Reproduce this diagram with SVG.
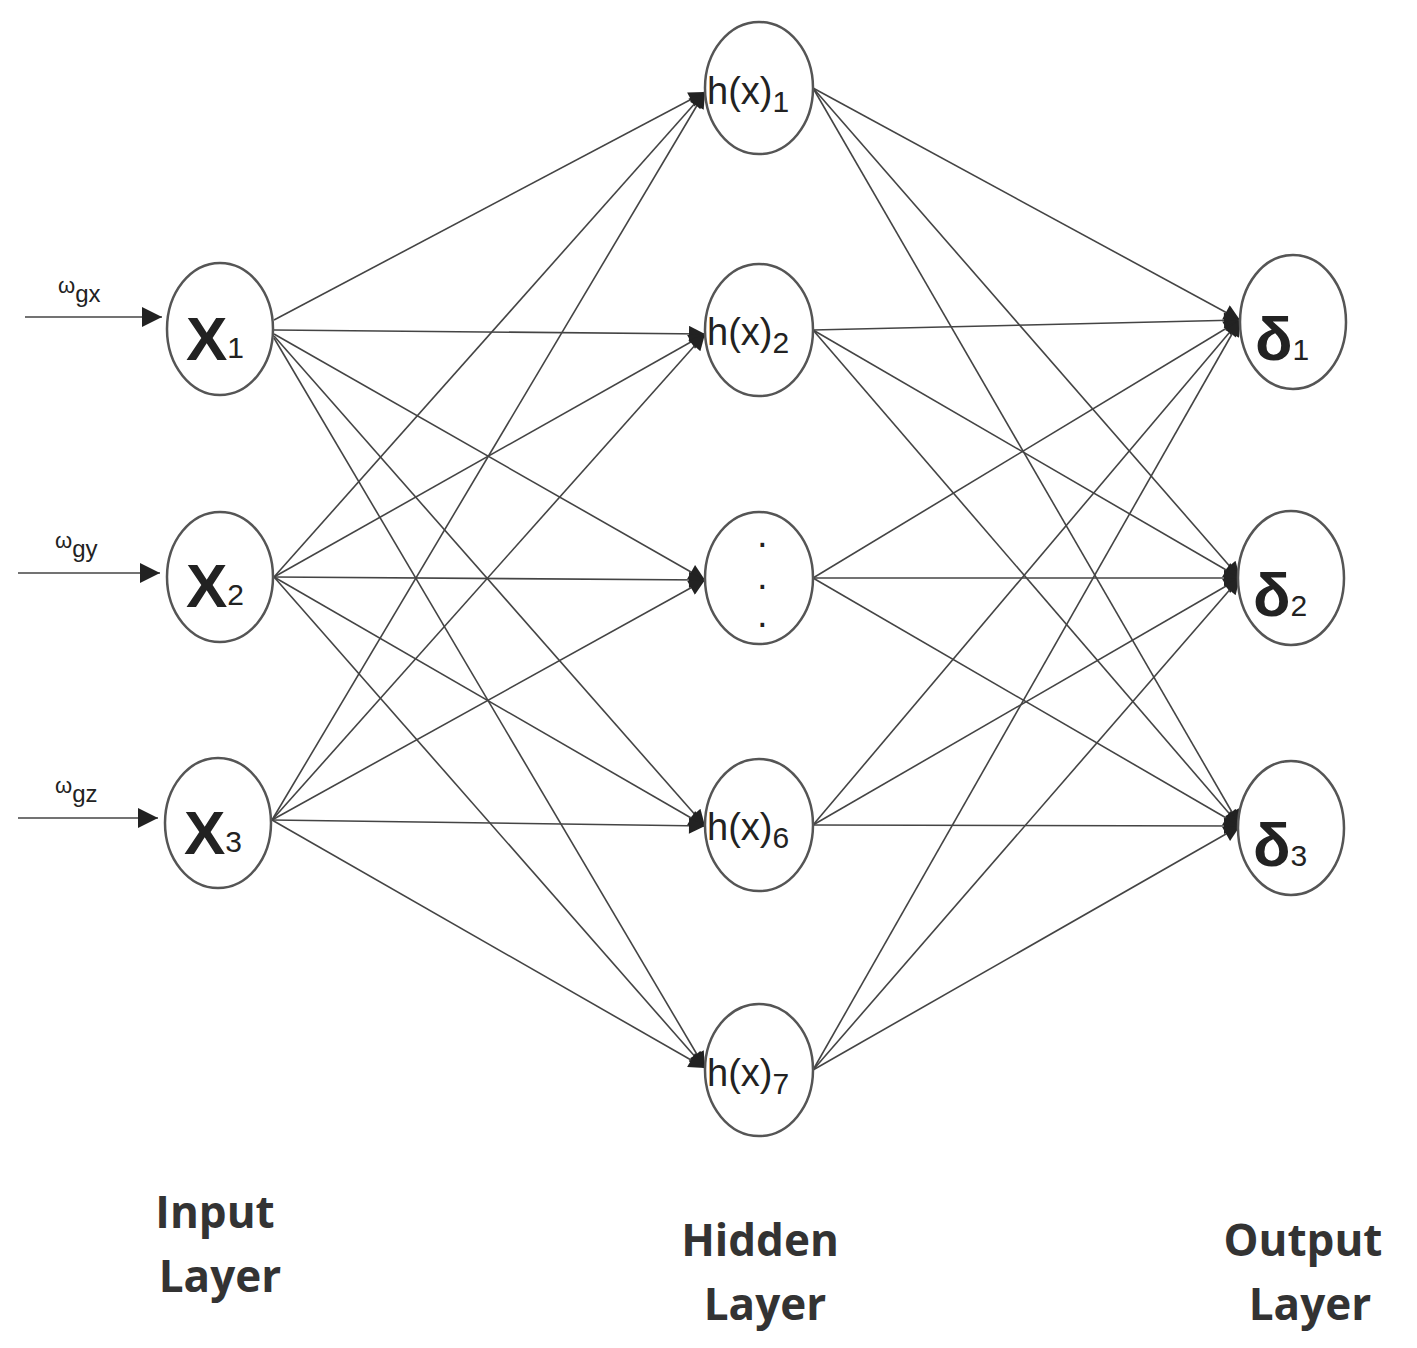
<svg xmlns="http://www.w3.org/2000/svg" width="1417" height="1348" viewBox="0 0 1417 1348">
<style>
.n{fill:#fff;stroke:#555;stroke-width:2.5}
.c line{stroke:#444;stroke-width:1.6}
.big{font-family:"Liberation Sans",Arial,sans-serif;font-weight:bold;font-size:62px;fill:#222}
.sub{font-family:"Liberation Sans",Arial,sans-serif;font-size:30px;fill:#222}
.h{font-family:"Liberation Sans",Arial,sans-serif;font-size:38px;fill:#222}
.w{font-family:"Liberation Sans",Arial,sans-serif;font-size:22px;fill:#222}
.lab{font-family:"Open Sans",sans-serif;font-weight:bold;font-size:44px;fill:#333;text-anchor:middle}
</style>
<defs>
<marker id="a" viewBox="0 0 10 10" refX="10" refY="5" markerWidth="22" markerHeight="16" markerUnits="userSpaceOnUse" orient="auto"><path d="M0,0L10,5L0,10z" fill="#222"/></marker>
<marker id="b" viewBox="0 0 10 10" refX="10" refY="5" markerWidth="24" markerHeight="20" markerUnits="userSpaceOnUse" orient="auto"><path d="M0,0L10,5L0,10z" fill="#222"/></marker>
</defs>
<g class="c" id="connectors">
<line x1="25" y1="317" x2="162" y2="317" marker-end="url(#b)"/>
<line x1="18" y1="573" x2="160" y2="573" marker-end="url(#b)"/>
<line x1="18" y1="818" x2="158" y2="818" marker-end="url(#b)"/>
<g marker-end="url(#a)">
<line x1="274" y1="320" x2="705" y2="92"/><line x1="274" y1="330" x2="705" y2="334"/><line x1="274" y1="334" x2="705" y2="580"/><line x1="274" y1="336" x2="705" y2="826"/><line x1="274" y1="338" x2="705" y2="1068"/>
<line x1="274" y1="577" x2="705" y2="92"/><line x1="274" y1="577" x2="705" y2="334"/><line x1="274" y1="577" x2="705" y2="580"/><line x1="274" y1="577" x2="705" y2="826"/><line x1="274" y1="577" x2="705" y2="1068"/>
<line x1="272" y1="820" x2="705" y2="92"/><line x1="272" y1="820" x2="705" y2="334"/><line x1="272" y1="820" x2="705" y2="580"/><line x1="272" y1="820" x2="705" y2="826"/><line x1="272" y1="820" x2="705" y2="1068"/>
</g>
<g marker-end="url(#a)">
<line x1="813" y1="88" x2="1240" y2="320"/><line x1="813" y1="88" x2="1240" y2="578"/><line x1="813" y1="88" x2="1240" y2="826"/>
<line x1="813" y1="330" x2="1240" y2="320"/><line x1="813" y1="330" x2="1240" y2="578"/><line x1="813" y1="330" x2="1240" y2="826"/>
<line x1="813" y1="578" x2="1240" y2="320"/><line x1="813" y1="578" x2="1240" y2="578"/><line x1="813" y1="578" x2="1240" y2="826"/>
<line x1="813" y1="825" x2="1240" y2="320"/><line x1="813" y1="825" x2="1240" y2="578"/><line x1="813" y1="825" x2="1240" y2="826"/>
<line x1="813" y1="1070" x2="1240" y2="320"/><line x1="813" y1="1070" x2="1240" y2="578"/><line x1="813" y1="1070" x2="1240" y2="826"/>
</g>
</g>
<text class="w" x="58" y="293">ω<tspan font-size="24" dy="9">gx</tspan></text>
<text class="w" x="55" y="548">ω<tspan font-size="24" dy="9">gy</tspan></text>
<text class="w" x="55" y="793">ω<tspan font-size="24" dy="9">gz</tspan></text>
<g id="x1"><ellipse class="n" cx="220" cy="329" rx="53" ry="66"/><text class="big" x="186" y="360">X<tspan class="sub" font-weight="normal" dy="-2">1</tspan></text></g>
<g id="x2"><ellipse class="n" cx="220" cy="577" rx="53" ry="65"/><text class="big" x="186" y="607">X<tspan class="sub" font-weight="normal" dy="-2">2</tspan></text></g>
<g id="x3"><ellipse class="n" cx="218" cy="823" rx="53" ry="65"/><text class="big" x="184" y="854">X<tspan class="sub" font-weight="normal" dy="-2">3</tspan></text></g>
<g id="h1"><ellipse class="n" cx="759" cy="88" rx="54" ry="66"/><text class="h" x="707" y="104">h(x)<tspan class="sub" dy="8">1</tspan></text></g>
<g id="h2"><ellipse class="n" cx="759" cy="330" rx="54" ry="66"/><text class="h" x="707" y="345">h(x)<tspan class="sub" dy="8">2</tspan></text></g>
<g id="h3"><ellipse class="n" cx="759" cy="578" rx="54" ry="66"/><text class="h" x="756" y="556" font-size="26">·</text><text class="h" x="756" y="598" font-size="26">·</text><text class="h" x="756" y="636" font-size="26">·</text></g>
<g id="h6"><ellipse class="n" cx="759" cy="825" rx="54" ry="66"/><text class="h" x="707" y="840">h(x)<tspan class="sub" dy="8">6</tspan></text></g>
<g id="h7"><ellipse class="n" cx="759" cy="1070" rx="54" ry="66"/><text class="h" x="707" y="1086">h(x)<tspan class="sub" dy="8">7</tspan></text></g>
<g id="d1"><ellipse class="n" cx="1293" cy="322" rx="53" ry="67"/><text class="big" x="1255" y="360">δ<tspan class="sub" font-weight="normal">1</tspan></text></g>
<g id="d2"><ellipse class="n" cx="1291" cy="578" rx="53" ry="67"/><text class="big" x="1253" y="616">δ<tspan class="sub" font-weight="normal">2</tspan></text></g>
<g id="d3"><ellipse class="n" cx="1291" cy="828" rx="53" ry="67"/><text class="big" x="1253" y="866">δ<tspan class="sub" font-weight="normal">3</tspan></text></g>
<text class="lab" x="215" y="1228">Input</text><text class="lab" x="220" y="1292">Layer</text>
<text class="lab" x="760" y="1256">Hidden</text><text class="lab" x="765" y="1320">Layer</text>
<text class="lab" x="1303" y="1256">Output</text><text class="lab" x="1310" y="1320">Layer</text>
</svg>
